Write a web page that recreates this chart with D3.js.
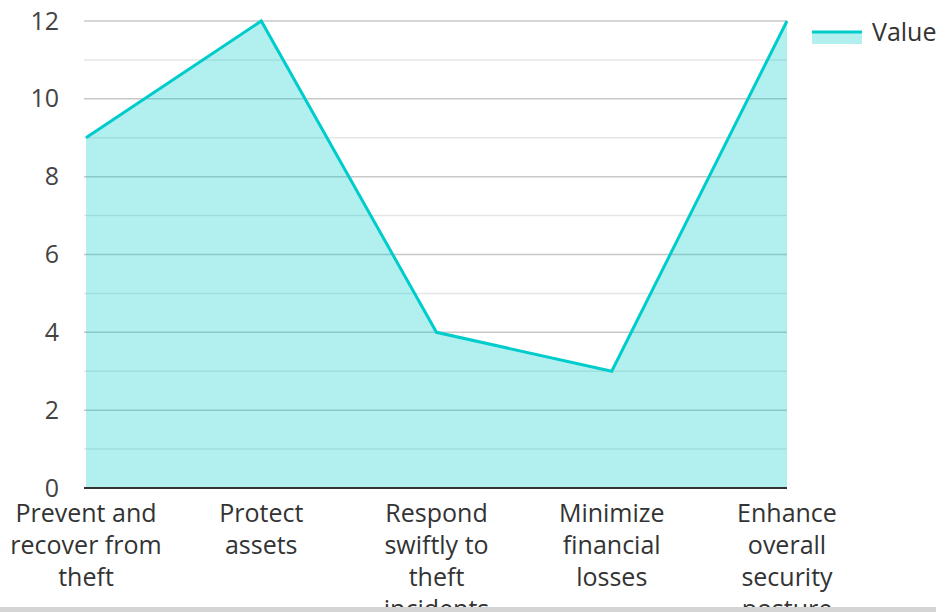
<!DOCTYPE html>
<html>
<head>
<meta charset="utf-8">
<script src="https://cdn.jsdelivr.net/npm/d3@7"></script>
<style>
  body { margin: 0; background: #fff; overflow: hidden; }
  svg { display: block; font-family: "Open Sans", sans-serif; }
</style>
</head>
<body>
<div id="chart"></div>
<script>
var categories = ["Prevent and recover from theft", "Protect assets", "Respond swiftly to theft incidents", "Minimize financial losses", "Enhance overall security posture"];
var values = [9, 12, 4, 3, 12];
var yTicks = [0, 2, 4, 6, 8, 10, 12];
var seriesName = "Value";

var margin = {top: 21, right: 149, bottom: 124, left: 86},
    width = 936 - margin.left - margin.right,
    height = 612 - margin.top - margin.bottom;

var svg = d3.select("#chart")
  .append("svg")
    .attr("width", 936)
    .attr("height", 612);

var g = svg.append("g")
    .attr("transform", "translate(" + margin.left + "," + margin.top + ")");

var x = d3.scalePoint()
  .domain(categories)
  .range([0, width]);

var y = d3.scaleLinear()
  .domain([0, 12])
  .range([height, 0]);

// grid lines (odd values lighter)
g.append("g")
  .selectAll("line")
  .data(d3.range(1, 13))
  .enter()
  .append("line")
    .attr("x1", -2)
    .attr("x2", width)
    .attr("y1", function (d) { return y(d); })
    .attr("y2", function (d) { return y(d); })
    .attr("stroke", function (d) { return d % 2 === 0 ? "#c8c8c8" : "#e6e6e6"; })
    .attr("stroke-width", 1.5);

var data = categories.map(function (c, i) { return {cat: c, v: values[i]}; });

// area + line
g.append("path")
  .datum(data)
  .attr("fill", "rgba(0,204,204,0.3)")
  .attr("d", d3.area()
    .x(function (d) { return x(d.cat); })
    .y0(y(0))
    .y1(function (d) { return y(d.v); }));

g.append("path")
  .datum(data)
  .attr("fill", "none")
  .attr("stroke", "#00cccc")
  .attr("stroke-width", 3)
  .attr("d", d3.line()
    .x(function (d) { return x(d.cat); })
    .y(function (d) { return y(d.v); }));

// Y axis
var yAxis = g.append("g")
  .call(d3.axisLeft(y).tickValues(yTicks).tickSize(0).tickPadding(27));
yAxis.select(".domain").remove();
yAxis.selectAll("text")
  .attr("fill", "#444")
  .style("font-size", "25px")
  .style("font-family", "'Open Sans', sans-serif");

// X axis
g.append("line")
  .attr("x1", -2).attr("x2", width)
  .attr("y1", height).attr("y2", height)
  .attr("stroke", "#333").attr("stroke-width", 2);

// wrapped category labels
function wrapLabel(text, maxW) {
  var words = text.split(" "), lines = [], cur = "";
  var tmp = svg.append("text").style("font-size", "25px");
  words.forEach(function (w) {
    var test = cur ? cur + " " + w : w;
    tmp.text(test);
    if (tmp.node().getComputedTextLength() > maxW && cur) {
      lines.push(cur);
      cur = w;
    } else {
      cur = test;
    }
  });
  if (cur) lines.push(cur);
  tmp.remove();
  return lines;
}

categories.forEach(function (c) {
  var lines = wrapLabel(c, 155);
  var t = g.append("text")
    .attr("text-anchor", "middle")
    .attr("fill", "#333")
    .style("font-size", "25px")
    .attr("x", x(c))
    .attr("y", height + 34);
  lines.forEach(function (l, i) {
    t.append("tspan")
      .attr("x", x(c))
      .attr("dy", i === 0 ? 0 : 32)
      .text(l);
  });
});

// legend
var legend = svg.append("g").attr("transform", "translate(812,32)");
legend.append("rect")
  .attr("x", 0).attr("y", 0)
  .attr("width", 50).attr("height", 12)
  .attr("fill", "rgba(0,204,204,0.3)");
legend.append("line")
  .attr("x1", 0).attr("x2", 50)
  .attr("y1", 0).attr("y2", 0)
  .attr("stroke", "#00cccc").attr("stroke-width", 3);
legend.append("text")
  .attr("x", 60).attr("y", 9)
  .attr("fill", "#333")
  .style("font-size", "25px")
  .text(seriesName);

// bottom border strip
svg.append("rect")
  .attr("x", 0).attr("y", 607)
  .attr("width", 936).attr("height", 5)
  .attr("fill", "#d4d4d4");
</script>
</body>
</html>
